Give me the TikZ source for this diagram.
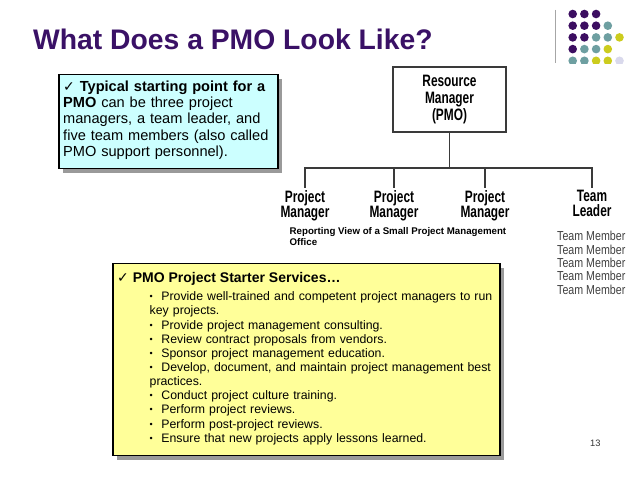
\documentclass[tikz,border=0pt]{standalone}
\usepackage{fontspec}
\setmainfont{Liberation Sans}
\newfontfamily\condfont[FakeStretch=0.72]{Liberation Sans}
\newfontfamily\tmfont[FakeStretch=0.82]{Liberation Sans}
\newfontfamily\symfont{DejaVu Sans}
\usetikzlibrary{shadows}
\definecolor{titlepurple}{HTML}{3A1166}
\definecolor{dotpurple}{HTML}{3C0E61}
\definecolor{dotteal}{HTML}{6E9FA1}
\definecolor{dotyellow}{HTML}{CCCC1E}
\definecolor{dotlav}{HTML}{D9D9EC}
\definecolor{cyanbox}{HTML}{CCFFFF}
\definecolor{yellowbox}{HTML}{FFFF99}
\definecolor{orgline}{HTML}{3A3A3A}
\definecolor{shadowgray}{HTML}{9A9A9A}
\definecolor{tmgray}{HTML}{404040}
\tikzset{
  calloutbox/.style={draw=black, line width=1.5pt, inner sep=0,
    drop shadow={shadow xshift=4.5pt, shadow yshift=-4.5pt, fill=shadowgray, opacity=1}},
  orgbox/.style={draw=orgline, line width=1.6pt, align=center, inner sep=0,
    font=\condfont\bfseries\fontsize{16.5}{16.8}\selectfont},
  orglabel/.style={align=center, inner sep=0, anchor=north,
    font=\condfont\bfseries\fontsize{16.5}{15.2}\selectfont},
  orgline/.style={draw=orgline, line width=1.6pt},
  dot/.style={circle, inner sep=0, minimum size=8.6pt},
  tmline/.style={anchor=base west, inner sep=0, text=tmgray,
    font=\tmfont\fontsize{13}{13}\selectfont},
}
\newcommand{\chk}{{\symfont\bfseries\fontsize{14}{14}\selectfont ✓}}
\newcommand{\bul}{\makebox[11.7pt][l]{\raisebox{1pt}{\fontsize{9}{9}\selectfont •}}}
\begin{document}
\begin{tikzpicture}[x=1pt,y=-1pt]
\useasboundingbox[fill=white] (0,0) rectangle (638,478);
% title
\node[anchor=base west, inner sep=0, text=titlepurple,
  font=\bfseries\fontsize{28.3}{30}\selectfont] (title) at (33,50) {What Does a PMO Look Like?};
% logo
\draw[gray!70, line width=0.9pt] (555.7,10) -- (555.7,63);
\foreach \c [count=\i] in {dotpurple,dotpurple,dotpurple}
  \node[dot, fill=\c] (r1\i) at ({561+11.7*\i},14) {};
\foreach \c [count=\i] in {dotpurple,dotpurple,dotpurple,dotteal}
  \node[dot, fill=\c] (r2\i) at ({561+11.7*\i},25.7) {};
\foreach \c [count=\i] in {dotpurple,dotpurple,dotteal,dotteal,dotyellow}
  \node[dot, fill=\c] (r3\i) at ({561+11.7*\i},37.4) {};
\foreach \c [count=\i] in {dotpurple,dotteal,dotteal,dotyellow}
  \node[dot, fill=\c] (r4\i) at ({561+11.7*\i},49.1) {};
\begin{scope}
\clip (560,56) rectangle (638,63.5);
\foreach \c [count=\i] in {dotteal,dotteal,dotyellow,dotyellow,dotlav}
  \node[dot, fill=\c] (r5\i) at ({561+11.7*\i},60.8) {};
\end{scope}
% cyan callout
\node[calloutbox, fill=cyanbox, minimum width=219pt, minimum height=94pt, anchor=north west] (cyan) at (58,74) {};
\node[anchor=north west, inner sep=0, align=left, text width=212pt,
  font=\fontsize{14.6}{16.3}\selectfont] (cyantext) at (63,80.6)
  {\chk\ \textbf{Typical starting point for a}\\
   \textbf{PMO} can be three project\\
   managers, a team leader, and\\
   five team members (also called\\
   PMO support personnel).};
% org chart
\node[orgbox, minimum width=113pt, minimum height=64.5pt] (rm) at (449.5,99.5)
  {Resource\\Manager\\(PMO)};
\node[orglabel] (pm1) at (305,190) {Project\\Manager};
\node[orglabel] (pm2) at (394,190) {Project\\Manager};
\node[orglabel] (pm3) at (485,190) {Project\\Manager};
\node[orglabel] (tl) at (592,190) {Team\\Leader};
\coordinate (j) at (449.5,168.3);
\coordinate (j1) at (305,168.3);
\coordinate (j4) at (592,168.3);
\draw[orgline] (rm.south) -- (j);
\draw[orgline, line cap=rect] (j1) -- (j4);
\draw[orgline] (j1) -- ([yshift=2pt]pm1.north);
\draw[orgline] (pm2.north |- j) -- ([yshift=2pt]pm2.north);
\draw[orgline] (pm3.north |- j) -- ([yshift=2pt]pm3.north);
\draw[orgline] (j4) -- ([yshift=2pt]tl.north);
% caption
\node[anchor=base west, inner sep=0, align=left, font=\bfseries\fontsize{9.7}{11}\selectfont]
  (cap) at (289.5,245.7) {Reporting View of a Small Project Management\\Office};
% team members
\foreach \k in {0,...,4}
  \node[tmline] (tm\k) at (557,{241+13.3*\k}) {Team Member};
% yellow callout
\node[calloutbox, fill=yellowbox, minimum width=387pt, minimum height=192pt, anchor=north west] (yel) at (112,263) {};
\node[anchor=base west, inner sep=0, font=\bfseries\fontsize{14}{14}\selectfont] (head) at (117,282.2)
  {\chk\ PMO Project Starter Services…};
\node[anchor=north west, inner sep=0, align=left, text width=345pt,
  font=\fontsize{12.3}{14.15}\selectfont] (list) at (149.5,291.6)
  {\bul Provide well-trained and competent project managers to run\\
   key projects.\\
   \bul Provide project management consulting.\\
   \bul Review contract proposals from vendors.\\
   \bul Sponsor project management education.\\
   \bul Develop, document, and maintain project management best\\
   practices.\\
   \bul Conduct project culture training.\\
   \bul Perform project reviews.\\
   \bul Perform post-project reviews.\\
   \bul Ensure that new projects apply lessons learned.};
% page number
\node[anchor=base west, inner sep=0, text=black!80, font=\fontsize{9.3}{10}\selectfont] (pg) at (590,447) {13};
\end{tikzpicture}
\end{document}
